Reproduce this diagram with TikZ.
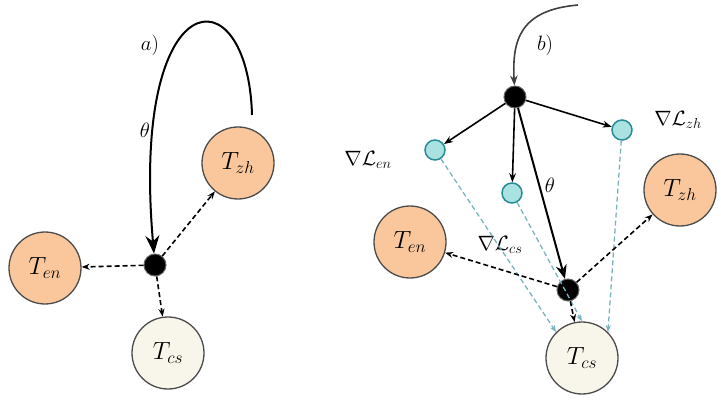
\documentclass[tikz,border=0pt]{standalone}
\usetikzlibrary{arrows.meta}
\begin{document}
\begin{tikzpicture}[x=1pt,y=-1pt,
  big/.style={circle,draw=black!70,line width=1.3pt,minimum size=72pt,inner sep=0pt,font=\fontsize{24}{24}\selectfont},
  orange/.style={big,fill={rgb,255:red,249;green,199;blue,155}},
  cream/.style={big,fill={rgb,255:red,248;green,245;blue,235}},
  dot/.style={circle,fill=black,draw=black!60,line width=1pt,minimum size=22pt,inner sep=0pt},
  grad/.style={circle,fill={rgb,255:red,170;green,225;blue,225},draw={rgb,255:red,40;green,140;blue,150},line width=1.5pt,minimum size=20pt,inner sep=0pt},
  da/.style={-{Stealth[length=8pt]},line width=1.6pt,dash pattern=on 5pt off 3pt},
  ta/.style={-{Stealth[length=7pt]},line width=1.3pt,dash pattern=on 5pt off 3pt,draw={rgb,255:red,120;green,180;blue,190}},
  sa/.style={-{Stealth[length=9pt]},line width=1.6pt},
  lab/.style={font=\fontsize{22}{22}\selectfont}]
\useasboundingbox (0,0) rectangle (721,401);
% panel a
\node[lab] (la) at (150,45) {$a)$};
\node[dot] (d1) at (155,265) {};
\node[orange] (aen) at (45,268) {$T_{en}$};
\node[orange] (azh) at (238,163) {$T_{zh}$};
\node[cream] (acs) at (168,353) {$T_{cs}$};
\coordinate (a0) at (252,115);
\draw[line width=2pt,-{Stealth[length=18pt,width=14pt]}] (a0) .. controls (248,-30) and (130,-20) .. (d1);
\node[lab] (tha) at (145,130) {$\theta$};
\draw[da] (d1) -- (aen);
\draw[da] (d1) -- (azh);
\draw[da] (d1) -- (acs);
% panel b
\node[lab] (lb) at (545,45) {$b)$};
\node[dot] (d2) at (515,97) {};
\node[dot] (d3) at (568,290) {};
\coordinate (b0) at (578,5);
\draw[line width=1.6pt,draw=black!75,-{Stealth[length=10pt]}] (b0) .. controls (520,10) and (512,40) .. (d2);
\node[grad] (gen) at (435,150) {};
\node[grad] (gcs) at (512,193) {};
\node[grad] (gzh) at (622,130) {};
\node[orange] (ben) at (410,242) {$T_{en}$};
\node[orange] (bzh) at (680,190) {$T_{zh}$};
\node[cream] (bcs) at (582,358) {$T_{cs}$};
\draw[sa] (d2) -- (gen);
\draw[sa] (d2) -- (gcs);
\draw[sa] (d2) -- (gzh);
\draw[line width=2pt,-{Stealth[length=14pt,width=11pt]}] (d2) -- (d3);
\node[lab] (thb) at (550,185) {$\theta$};
\node[lab] (nen) at (368,160) {$\nabla\mathcal{L}_{en}$};
\node[lab] (ncs) at (500,245) {$\nabla\mathcal{L}_{cs}$};
\node[lab] (nzh) at (678,120) {$\nabla\mathcal{L}_{zh}$};
\draw[ta] (gen) -- (bcs.north west);
\draw[ta] (gcs) -- (bcs.north);
\draw[ta] (gzh) -- (bcs.north east);
\draw[da] (d3) -- (ben);
\draw[da] (d3) -- (bzh);
\draw[da] (d3) -- (bcs);
\end{tikzpicture}
\end{document}
